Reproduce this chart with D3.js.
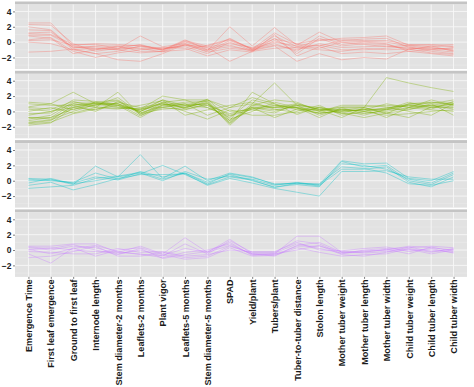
<!DOCTYPE html>
<html>
<head>
<meta charset="utf-8">
<script src="https://cdn.jsdelivr.net/npm/d3@7"></script>
<style>
  body { margin: 0; background: #fff; }
  svg { display: block; font-family: "Liberation Sans", Arial, sans-serif; }
</style>
</head>
<body>
<div id="chart"></div>
<script>
// traits on the x axis
const traits = ["Emergence Time", "First leaf emergence", "Ground to first leaf", "Internode length",
  "Stem diameter-2 months", "Leaflets-2 months", "Plant vigor", "Leaflets-5 months",
  "Stem diameter-5 months", "SPAD", "Yield/plant", "Tubers/plant", "Tuber-to-tuber distance",
  "Stolon length", "Mother tuber weight", "Mother tuber length", "Mother tuber width",
  "Child tuber weight", "Child tuber length", "Child tuber width"];

const yTicks = [-2, 0, 2, 4];

// cluster 1 (red) - standardised trait values
const cluster1 = [
  [2.5, 2.5, -0.5, -0.8, -1.0, -0.6, -1.0, 0.3, -1.0, 0.5, -1.0, 0.8, -0.6, 0.2, 0.5, 0.6, 0.8, -0.4, -0.6, -0.5],
  [2.3, 2.2, -0.2, -1.2, -0.8, -0.9, -0.9, -0.4, -1.2, 0.2, -0.9, 1.2, -0.3, -0.5, 0.2, 0.4, 0.5, -0.7, -0.9, -0.8],
  [2.0, 1.6, -0.8, -0.5, -0.5, -1.2, -1.2, 0.0, -0.8, -0.4, -1.2, 0.5, -1.5, 0.5, -0.5, -0.2, -0.3, -1.0, -0.5, -1.2],
  [1.6, 1.5, -1.0, -1.5, -1.2, -0.5, -0.8, -0.6, -1.5, 0.0, -1.1, 0.2, -0.8, -0.4, -1.0, -1.0, -0.8, -0.6, -1.2, -1.5],
  [1.1, 1.0, -0.3, -0.3, -0.8, -0.3, -1.1, 0.2, -0.5, 0.3, -0.8, 0.0, -0.5, -0.8, 0.0, 0.1, 0.0, -0.5, -0.8, -1.0],
  [0.9, 0.9, -0.6, -1.0, -0.6, -0.8, -1.3, -0.2, -1.0, -0.6, -1.0, -0.4, -1.0, -0.2, -0.7, -0.6, -0.5, -0.8, -1.0, -0.7],
  [0.3, 0.6, -1.2, -2.0, -1.4, -1.0, -0.7, -0.8, -1.8, -1.0, -1.3, 1.0, -1.8, -0.6, -1.5, -1.3, -1.5, -1.2, -1.5, -1.8],
  [0.2, 0.3, -0.4, -0.2, -0.3, -0.5, -0.9, -0.4, -0.6, -0.2, -0.7, 0.4, -0.2, 0.3, 0.3, 0.2, 0.2, -0.3, -0.4, -0.3],
  [-1.3, -1.2, -0.9, -1.5, -2.3, -2.5, -1.5, -0.3, -1.3, -0.8, -1.1, -0.5, -2.5, -1.5, -2.3, -2.0, -2.2, -0.9, -1.4, -1.6],
  [1.2, 1.3, -0.7, -0.6, -0.9, 0.8, -0.6, -0.2, -1.1, 2.0, -0.5, 1.9, -0.4, 1.3, 0.0, -0.3, -0.6, -0.4, -0.3, -0.6],
  [0.8, 0.5, -1.5, -1.0, -0.5, -0.4, -1.0, 0.1, -0.7, -2.5, -1.2, -0.8, -0.7, -1.0, -1.2, -0.8, -1.0, -0.9, -0.7, -1.1],
  [0.0, -0.2, -1.0, -0.8, -1.0, -1.4, -1.2, -1.0, -0.4, 0.4, -0.9, -0.2, -1.2, 0.8, -0.3, 0.0, -0.2, -1.2, -1.0, -1.3]
];

// cluster 2 (green)
const cluster2 = [
  [1.2, 1.0, 2.5, 1.0, 1.0, 0.0, 1.5, 0.8, 1.5, 0.5, 1.0, 3.7, 0.8, 0.3, 0.2, 0.5, 4.4, 3.7, 3.1, 2.6],
  [-1.8, -1.5, 0.5, 1.0, 0.8, 0.2, 1.0, 0.5, 1.2, -1.5, 0.8, 0.5, 0.5, 0.0, 0.3, 0.0, 0.5, 0.8, 0.5, 1.0],
  [-1.5, -1.2, 0.8, 1.2, 1.5, -0.2, 0.8, 1.0, 0.8, -1.2, 2.5, 1.0, 0.2, -0.2, 0.0, 0.3, 0.2, 1.0, 1.2, 0.8],
  [-1.2, -0.8, 1.0, 0.5, 2.5, -0.5, 0.5, 0.2, 1.0, -0.5, 0.5, 0.0, 0.8, 0.5, -0.3, -0.2, 0.0, 0.5, 0.8, 1.2],
  [-1.0, -0.5, 1.2, 1.0, 0.5, 0.3, 2.0, 1.5, 1.5, 0.0, 0.2, -0.2, 1.0, 0.2, 0.5, 0.5, -0.2, 0.2, 1.0, 1.5],
  [-0.8, -0.8, 0.3, 0.8, 1.0, 0.0, 1.2, 0.8, 0.5, -0.8, 1.5, 0.8, 0.5, -0.3, 0.2, -0.5, 0.3, 1.2, 0.5, 0.5],
  [-0.5, 0.0, 0.5, 0.2, 1.2, 0.5, 1.0, 0.0, -1.0, 0.2, -0.5, -0.5, 0.0, 0.8, -0.5, 0.0, -0.5, -0.3, 0.0, 0.2],
  [-0.3, -0.2, 1.5, 1.3, 0.8, -0.8, 0.8, 1.2, 1.3, -1.8, 0.8, 1.5, 1.2, 0.0, 0.8, 0.8, 0.6, 0.0, -0.5, 1.0],
  [0.0, 0.5, -0.2, 0.5, 0.3, 0.8, 1.4, -0.5, 0.2, 0.8, 1.2, 0.3, -0.2, 0.5, 0.0, 0.2, 1.0, 0.5, 1.5, 0.8],
  [0.3, 0.0, 1.0, 0.8, 1.8, -0.3, 0.3, 0.5, 1.6, -1.0, 0.0, 1.2, 0.5, -0.8, 0.5, -0.3, 0.2, 0.8, 0.3, 1.3],
  [0.6, 1.0, 0.2, 1.2, 0.6, 0.2, 1.5, 0.3, 0.8, -0.3, 0.5, -0.8, 0.3, 0.2, -0.8, 0.5, -0.3, 1.0, 1.0, -0.5],
  [1.0, 0.8, 0.8, 0.0, 1.3, -0.2, 0.6, 0.8, 1.0, -1.4, 1.0, 0.5, 0.8, -0.5, 0.3, 0.0, 0.3, 0.3, 0.8, 0.3],
  [-1.6, -1.4, -0.3, 0.3, 0.8, 0.0, 1.2, 1.5, 0.5, -0.6, 0.3, 0.6, 1.0, 0.3, -0.2, 0.3, -0.8, 0.5, 0.2, 0.0],
  [-0.8, -1.0, 0.6, 1.1, 1.0, -0.6, 0.9, 0.6, 1.1, -1.6, 0.6, 0.2, 0.6, 0.1, 0.6, 0.6, 0.8, 0.6, 1.2, 1.0],
  [0.5, 0.3, 1.3, 0.6, 0.4, 0.4, 0.5, 1.0, -0.5, 0.5, 1.8, 1.0, -0.4, 0.6, -0.2, -0.8, -0.2, -0.8, 0.6, 0.6],
  [-1.4, -1.1, 0.0, 0.9, 1.4, -0.4, 1.1, 0.4, 1.4, -1.2, 0.4, 0.8, 0.4, -0.2, 0.1, 0.2, 0.4, 0.9, 0.7, 0.9]
];

// cluster 3 (cyan)
const cluster3 = [
  [0.3, 0.2, -0.5, 1.9, 0.5, 3.4, 0.3, 1.9, 0.0, 1.0, 0.5, -0.5, -0.3, -0.5, 2.6, 2.2, 2.3, 0.3, 0.0, 1.2],
  [0.2, 0.0, -0.2, 1.0, 0.2, 1.2, 0.5, 1.0, -0.2, 0.8, 0.0, -0.8, -0.5, -0.8, 2.5, 1.8, 2.0, 0.0, -0.5, 0.8],
  [-0.3, 0.3, -0.4, 0.0, 0.5, 1.0, 0.0, 1.2, 0.2, 0.6, 0.2, -0.6, -0.2, -0.6, 1.5, 1.5, 1.8, -0.2, -0.8, 0.5],
  [-0.6, -0.2, -1.2, -0.5, 0.3, 0.8, 0.8, 0.9, -0.6, 0.3, -0.3, -1.0, -1.5, -2.0, 1.2, 1.2, 1.3, 0.5, 0.2, 0.2],
  [-1.0, -0.8, -0.6, 0.3, 0.6, 1.1, 0.2, 1.0, -0.4, 0.9, 0.4, -0.4, -0.4, -0.4, 1.8, 1.6, 1.0, -0.4, -0.6, 0.0],
  [0.0, 0.1, -0.3, 0.5, 0.1, 0.9, 2.0, 0.8, -0.5, 0.5, 0.1, -0.9, -0.3, -0.7, 2.2, 2.0, 1.5, 0.2, -0.3, 1.0]
];

// cluster 4 (purple)
const cluster4 = [
  [0.5, 0.5, 0.8, 0.8, -0.3, 0.5, -0.5, 1.6, -0.3, 1.4, -0.5, -0.5, 1.8, 1.8, -0.3, -0.2, 0.0, 0.5, 0.3, 0.0],
  [0.3, 0.0, 0.5, 0.3, -0.5, 0.0, -0.8, 0.8, -0.5, 1.2, -0.3, -0.3, 1.2, 0.8, -0.5, 0.0, 0.2, 0.3, 0.5, 0.3],
  [0.0, 0.3, 0.0, -0.2, -0.3, -0.5, -1.0, -0.3, 0.0, 0.8, -0.6, -0.6, 0.5, 0.5, -0.2, -0.4, -0.2, 0.0, 0.0, -0.3],
  [-0.5, -1.7, 0.3, -0.8, 0.0, 0.3, -0.6, -1.2, -1.0, 0.3, -0.8, -0.7, 0.3, -0.3, -0.8, -0.6, -0.5, 0.2, -0.3, 0.2],
  [-1.0, -0.8, -0.2, 0.5, -0.8, -0.8, -0.3, -1.0, -0.8, 0.5, -0.4, -0.4, 0.8, 0.2, -0.4, -0.3, 0.1, -0.5, 0.4, -0.2],
  [0.4, 0.2, 0.7, 0.0, -0.6, 0.2, -1.1, -0.6, -0.2, 1.0, -0.7, -0.5, 0.0, 0.6, -0.6, -0.8, -0.3, 0.4, -0.2, 0.1],
  [-0.2, -0.3, -0.5, -0.5, 0.2, -0.3, -0.2, -0.8, -0.6, 0.0, -0.2, -0.2, 1.0, 0.0, -0.1, 0.2, 0.4, -0.2, 0.2, -0.4],
  [0.1, -0.5, 0.2, 0.6, -0.2, -0.6, -0.7, 0.2, -0.3, 0.6, -0.5, -0.8, 0.6, 1.0, -0.3, -0.1, 0.0, 0.1, -0.5, 0.0]
];

const clusters = [cluster1, cluster2, cluster3, cluster4];
const colors = ["#F8766D", "#7CAE00", "#00BFC4", "#C77CFF"];

const width = 474, height = 387;
const left = 15, right = 467;
const firstTop = 4.5, panelH = 64.5, pitch = 69.3, stripH = 3;

const svg = d3.select("#chart").append("svg")
  .attr("width", width)
  .attr("height", height);

// x is a point scale with ggplot-like 0.6 expansion
const x = d3.scalePoint()
  .domain(traits)
  .range([left, right])
  .padding(0.6);

const line = d3.line();

clusters.forEach(function (rows, i) {
  const top = firstTop + i * pitch;

  const y = d3.scaleLinear()
    .domain([-3.5, 4.9])
    .range([top + panelH, top]);

  // strip above the panel
  svg.append("rect")
    .attr("x", left)
    .attr("y", top - stripH)
    .attr("width", right - left)
    .attr("height", stripH)
    .attr("fill", "#c4c4c4");

  // panel background
  svg.append("rect")
    .attr("x", left)
    .attr("y", top)
    .attr("width", right - left)
    .attr("height", panelH)
    .attr("fill", "#e2e2e2");

  const g = svg.append("g");

  // minor grid
  g.selectAll(".minor")
    .data([-3, -1, 1, 3])
    .enter().append("line")
    .attr("x1", left).attr("x2", right)
    .attr("y1", d => y(d)).attr("y2", d => y(d))
    .attr("stroke", "#ececec")
    .attr("stroke-width", 0.5);

  // major grid
  g.selectAll(".major")
    .data(yTicks)
    .enter().append("line")
    .attr("x1", left).attr("x2", right)
    .attr("y1", d => y(d)).attr("y2", d => y(d))
    .attr("stroke", "#f7f7f7")
    .attr("stroke-width", 0.9);

  g.selectAll(".vgrid")
    .data(traits)
    .enter().append("line")
    .attr("x1", d => x(d)).attr("x2", d => x(d))
    .attr("y1", top).attr("y2", top + panelH)
    .attr("stroke", "#f7f7f7")
    .attr("stroke-width", 0.9);

  // the profile lines
  g.selectAll(".profile")
    .data(rows)
    .enter().append("path")
    .attr("d", r => line(r.map((v, j) => [x(traits[j]), y(v)])))
    .attr("fill", "none")
    .attr("stroke", colors[i])
    .attr("stroke-opacity", 0.5)
    .attr("stroke-width", 0.75);

  // y axis labels
  const yAxis = d3.axisLeft(y).tickValues(yTicks).tickSize(2).tickPadding(1.5);
  const ax = svg.append("g")
    .attr("transform", "translate(" + left + ",0)")
    .call(yAxis);
  ax.select(".domain").remove();
  ax.selectAll(".tick line").attr("stroke", "#7f7f7f");
  ax.selectAll("text")
    .attr("fill", "#222")
    .style("font-size", "8.5px")
    .style("font-weight", "bold");
});

// x axis under the last panel
const bottom = firstTop + 3 * pitch + panelH;
const xAxis = d3.axisBottom(x).tickSize(2).tickPadding(2);
const xg = svg.append("g")
  .attr("transform", "translate(0," + bottom + ")")
  .call(xAxis);
xg.select(".domain").remove();
xg.selectAll(".tick line").attr("stroke", "#7f7f7f");
xg.selectAll("text")
  .attr("transform", "rotate(-90)")
  .attr("text-anchor", "end")
  .attr("x", -2.5)
  .attr("y", 0)
  .attr("dy", "0.35em")
  .attr("fill", "#1a1a1a")
  .style("font-size", "9.1px")
  .style("font-weight", "bold");
</script>
</body>
</html>
